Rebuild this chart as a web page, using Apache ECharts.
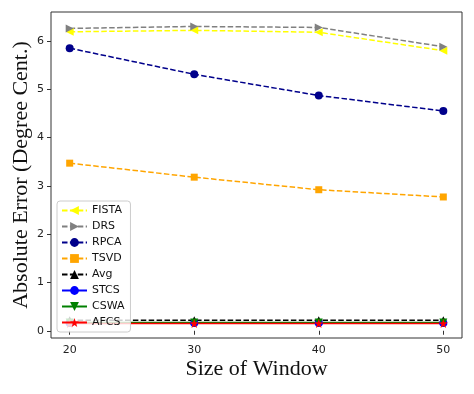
<!DOCTYPE html>
<html>
<head>
<meta charset="utf-8">
<script src="https://cdn.jsdelivr.net/npm/echarts@6/dist/echarts.min.js"></script>
<style>html,body{margin:0;padding:0;background:#fff}#c{width:474px;height:394px}</style>
</head>
<body>
<div id="c"></div>
<script>
const windowSizes = [20, 30, 40, 50];
const xTicks = [20, 30, 40, 50];
const yTicks = [0, 1, 2, 3, 4, 5, 6];
const fista = [6.19, 6.22, 6.18, 5.80];
const drs   = [6.26, 6.30, 6.28, 5.88];
const rpca  = [5.85, 5.31, 4.87, 4.55];
const tsvd  = [3.47, 3.18, 2.92, 2.77];
const avg   = [0.22, 0.22, 0.22, 0.22];
const stcs  = [0.16, 0.16, 0.16, 0.16];
const cswa  = [0.17, 0.17, 0.17, 0.17];
const afcs  = [0.15, 0.15, 0.15, 0.15];

const STAR = 'path://M0,-10 L2.35,-3.24 L9.51,-3.09 L3.8,1.24 L5.88,8.09 L0,4 L-5.88,8.09 L-3.8,1.24 L-9.51,-3.09 L-2.35,-3.24 Z';
const DASH = [5.5, 2.4];

function mk(name, vals, color, symbol, rot, size, dashed) {
  return {
    name: name, type: 'line',
    data: windowSizes.map((x, i) => [x, vals[i]]),
    symbol: symbol, symbolRotate: rot, symbolSize: size,
    showSymbol: true,
    lineStyle: { color: color, width: 1.5, type: dashed ? DASH : 'solid' },
    itemStyle: { color: color },
    emphasis: { disabled: true },
    animation: false
  };
}

const series = [
  mk('FISTA', fista, '#ffff00', 'triangle', 90, 8, true),
  mk('DRS', drs, '#808080', 'triangle', -90, 8, true),
  mk('RPCA', rpca, '#00008b', 'circle', 0, 8, true),
  mk('TSVD', tsvd, '#ffa500', 'rect', 0, 7, true),
  mk('Avg', avg, '#000000', 'triangle', 0, 8, true),
  mk('STCS', stcs, '#0000ff', 'circle', 0, 8, false),
  mk('CSWA', cswa, '#008000', 'triangle', 180, 8, false),
  mk('AFCS', afcs, '#ff0000', STAR, 0, 9, false)
];

const chart = echarts.init(document.getElementById('c'), null, { renderer: 'canvas' });
chart.setOption({
  backgroundColor: '#fff',
  animation: false,
  grid: { left: 51, right: 12, top: 12, bottom: 56, containLabel: false, outerBoundsMode: 'none', show: true, borderColor: '#333', borderWidth: 1, backgroundColor: 'transparent' },
  legend: {
    orient: 'vertical', left: 57, top: 201,
    padding: [4, 6, 4, 4],
    itemWidth: 25, itemHeight: 11, itemGap: 5,
    backgroundColor: 'rgba(255,255,255,0.8)',
    borderColor: '#cccccc', borderWidth: 1, borderRadius: 3,
    textStyle: { fontFamily: 'DejaVu Sans', fontSize: 11, color: '#111' },
    data: series.map(s => s.name)
  },
  xAxis: {
    type: 'value', min: 18.5, max: 51.5,
    name: 'Size of Window', nameLocation: 'middle', nameGap: 20, nameMoveOverlap: false,
    nameTextStyle: { fontFamily: 'Liberation Serif', fontSize: 22, color: '#111' },
    axisLine: { show: false },
    splitLine: { show: false },
    axisTick: { show: true, inside: false, length: 4, lineStyle: { color: '#333' }, customValues: xTicks },
    axisLabel: { margin: 7, fontFamily: 'DejaVu Sans', fontSize: 11, color: '#222', customValues: xTicks }
  },
  yAxis: {
    type: 'value', min: -0.15, max: 6.6,
    name: 'Absolute Error (Degree Cent.)', nameLocation: 'middle', nameGap: 19, nameMoveOverlap: false,
    nameTextStyle: { fontFamily: 'Liberation Serif', fontSize: 22, color: '#111' },
    axisLine: { show: false },
    splitLine: { show: false },
    axisTick: { show: true, inside: false, length: 4, lineStyle: { color: '#333' }, customValues: yTicks },
    axisLabel: { margin: 7, fontFamily: 'DejaVu Sans', fontSize: 11, color: '#222', customValues: yTicks }
  },
  series: series
});
</script>
</body>
</html>
